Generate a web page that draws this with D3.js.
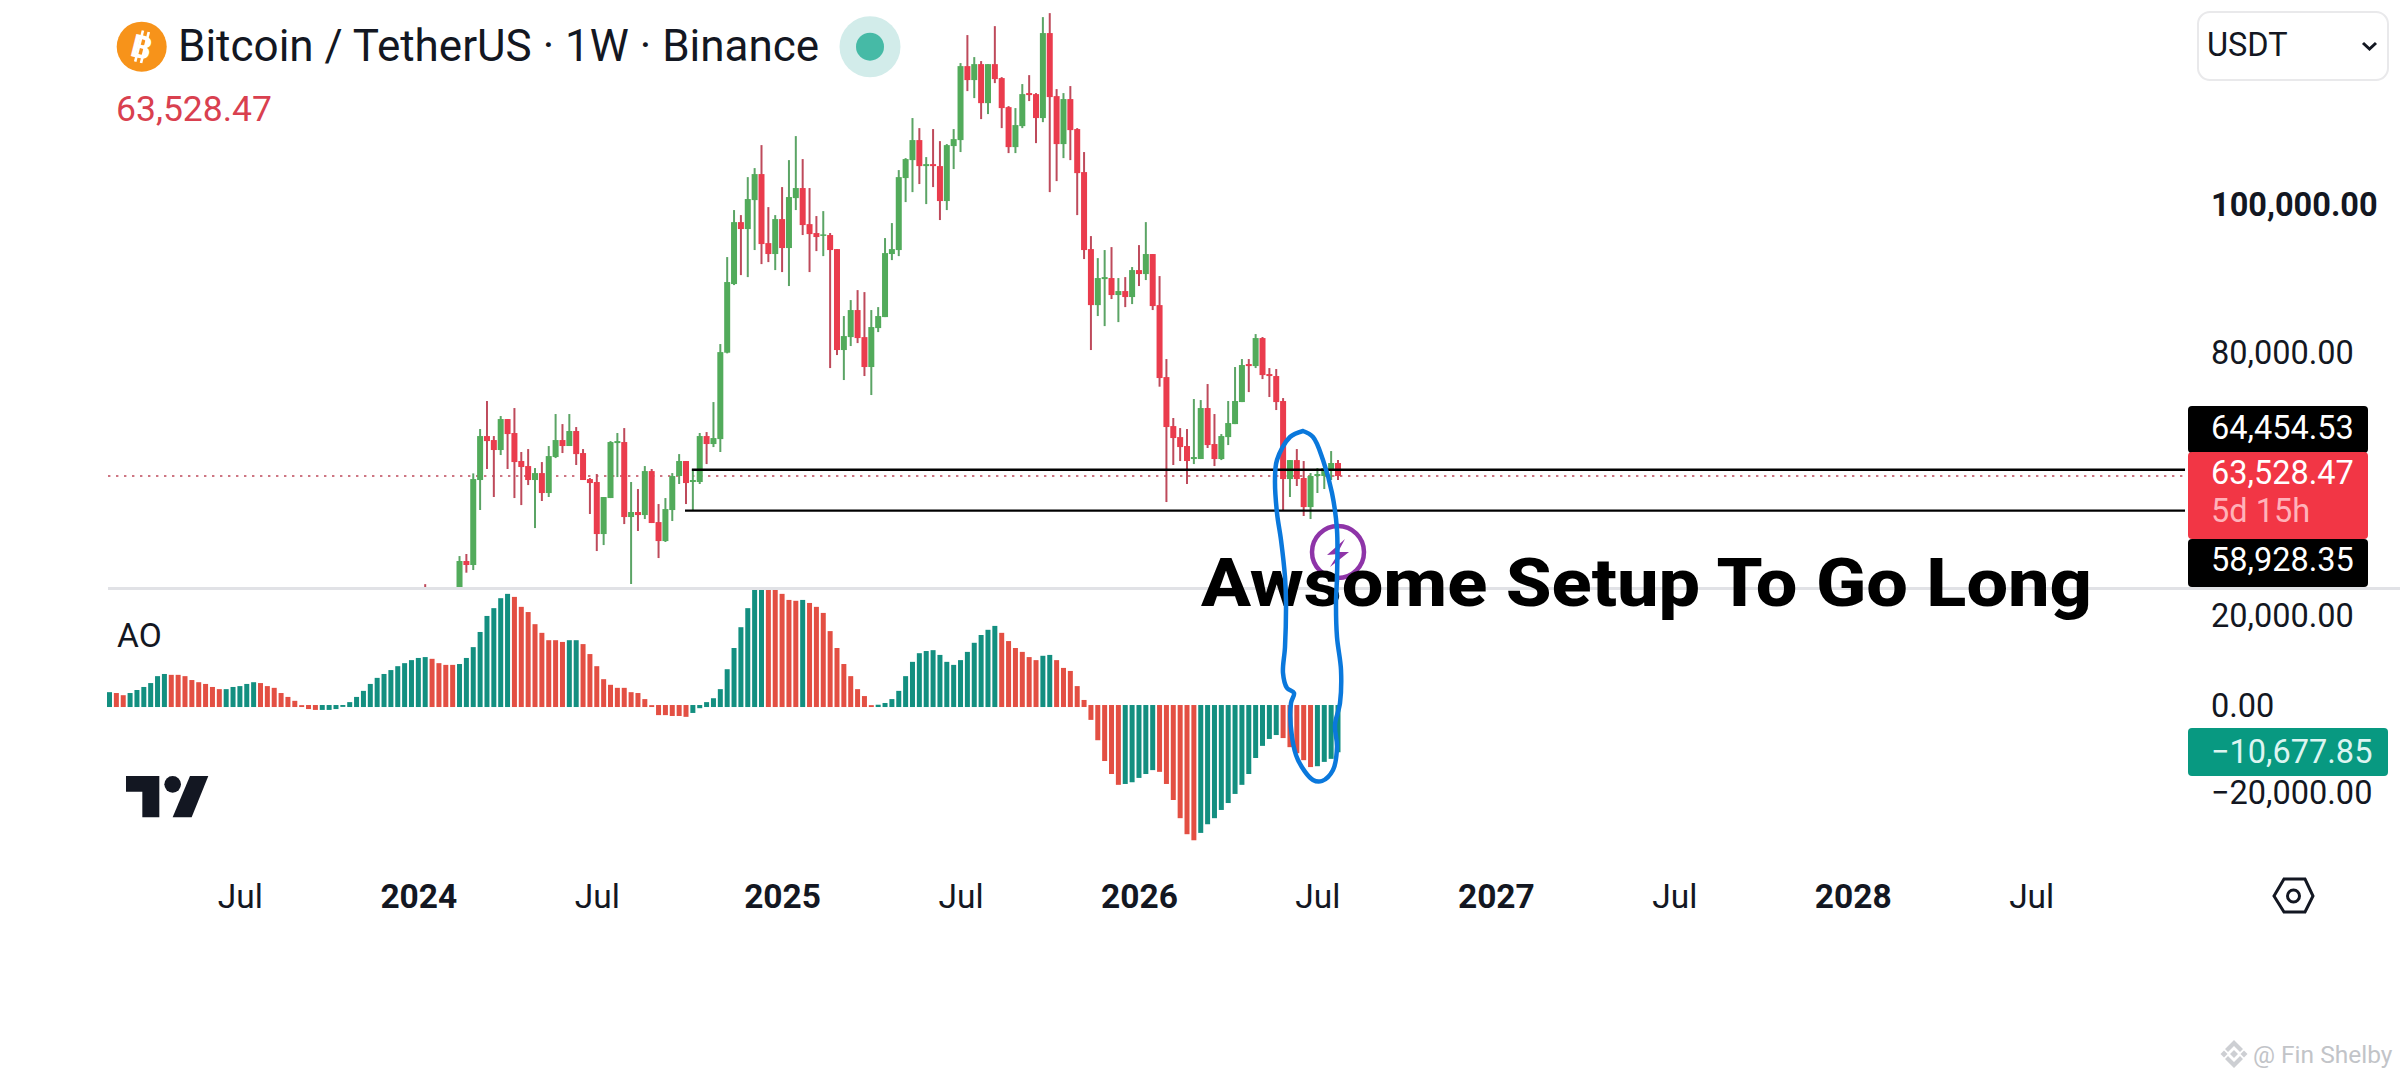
<!DOCTYPE html>
<html>
<head>
<meta charset="utf-8">
<title>Bitcoin / TetherUS 1W</title>
<script src="https://cdn.jsdelivr.net/npm/d3@7"></script>
<style>
    html, body { margin: 0; padding: 0; background: #fff; }
    svg { display: block; }
    text { font-family: Roboto, sans-serif; }
</style>
</head>
<body>
<div id="chart"></div>
<script>
// weekly candles, the first one sits at aoValues index 46
const candleOpen = [
    48000,47500,46800,46200,45900,46750,52030,51490,62990,68940,
    68400,67050,71240,69350,65560,64880,62990,63930,61230,66100,
    68400,67590,69620,66640,63120,62720,55680,60550,67990,68130,
    57980,58660,58250,64200,57300,54730,58930,63530,65560,62720,
    62720,68940,67860,68530,80220,89510,97890,96950,100870,104390,
    95050,93570,98300,94380,101140,102500,97620,96410,96050,96140,
    94240,80580,82330,85990,82330,78280,83550,85040,93570,94110,
    103850,106280,108990,105470,105740,105470,100740,108180,108990,119000,
    117110,119270,113990,119270,117380,113450,108040,110880,115350,115210,
    111970,123470,114940,108450,114540,110480,104660,94240,86660,90180,
    90320,88020,88560,87750,91400,90860,93570,86660,76920,70290,
    68800,67590,65830,65830,72730,67860,65830,68800,70560,73540,
    78680,78410,82200,77330,77060,73680,63120,65690,63260,59330,
    63530,63530,64480,65290
];
const candleHigh = [
    48900,48300,47800,47200,47000,52700,52980,63890,69890,73680,
    68940,71650,71240,72730,66780,67180,64610,65420,67590,71920,
    70560,71920,70160,67180,63260,63800,60690,68260,69350,70020,
    62720,61770,64880,64480,59740,60550,63930,66500,65560,64480,
    69350,69480,73540,81390,93160,99520,98840,103980,105200,108310,
    99920,98840,102630,106280,109530,106420,102500,98710,99380,96410,
    94240,85180,87340,88690,88420,85990,86390,95730,97760,104930,
    106550,111970,110610,106690,110480,108850,108450,110480,119410,123200,
    120220,119680,119270,124410,117510,113590,113320,116570,117780,115350,
    125630,126170,115890,115350,116300,110610,107370,96000,93020,94110,
    94510,90320,90450,91810,94780,97890,93570,90590,79360,71380,
    70020,69890,73950,73810,75980,71920,69210,73680,78280,79360,
    79360,82740,82340,78140,78010,74080,65690,67180,65560,63930,
    64610,65020,66910,65690
];
const candleLow = [
    47000,46000,45500,45000,44800,46300,50450,50810,58930,64480,
    60690,66370,64480,60550,59600,62310,56490,60150,60690,65960,
    66640,67590,65020,62990,58390,53380,54190,60550,63390,57030,
    48920,56090,57710,57170,52430,54600,57440,62450,59740,58930,
    62450,65150,67450,66780,80130,89370,90720,90450,94110,92210,
    92480,91400,91130,89240,99520,96140,91130,93970,93290,78140,
    79900,76520,81120,81520,77060,74490,83010,85040,92750,93290,
    100600,101950,103040,100330,102630,98170,99520,105070,107370,115620,
    114670,111830,112510,116700,110610,107230,107230,110610,114270,108580,
    111420,101950,103440,106550,106280,98840,92890,80580,85180,83820,
    87480,84360,86390,86800,89240,90050,85990,75620,60010,65020,
    65560,62450,65150,65830,67320,64880,65690,67720,70560,73540,
    74890,78140,76650,74220,72460,58930,60690,62180,58120,57710,
    61230,61770,62990,62990
];
const candleClose = [
    47500,46800,46200,45900,46700,52030,51490,63120,68940,68260,
    67050,71240,69210,65420,64750,62990,63930,61230,66230,68400,
    67590,69620,66500,62990,62580,55680,60690,68130,68260,57980,
    58660,58250,64200,57170,54730,59060,63530,65560,62580,62990,
    68940,67860,68670,80300,89780,97890,96950,101010,104390,94920,
    93570,98300,94380,101280,102500,97490,96270,95870,96230,94110,
    80580,82470,85990,82200,78280,83690,85180,93700,94240,103980,
    106420,108990,105470,105740,105470,100740,108310,109120,119000,117110,
    119270,113990,119270,117240,113320,108040,111020,115210,115080,111970,
    123470,114810,108450,114540,110340,104520,94110,86660,90320,90450,
    88020,88560,87750,91400,90860,93570,86530,76790,70160,68670,
    67450,65560,66100,72730,67720,65830,68940,70700,73680,78550,
    78410,82200,77190,77060,73540,63120,65690,63120,59330,63530,
    63800,64610,65290,63528.47
];
const aoValues = [
    3200,3000,2500,3000,3700,4400,5300,6900,7400,7200,
    7200,6900,6000,5500,5100,4400,3900,3900,4400,4600,
    5100,5500,5300,4600,4200,3000,2100,1200,200,-700,
    -900,-900,-900,-700,-200,900,2100,3500,5100,6500,
    7400,8300,9200,9900,10600,11100,11300,10900,9900,9500,
    9500,9700,11100,13600,17100,20800,22600,24900,25900,25200,
    22900,21700,18900,16900,15200,15200,14800,15200,15200,14300,
    12000,9200,6200,4900,4200,4200,3200,3000,1600,200,
    -2100,-2100,-2300,-2300,-2500,-1600,-500,900,1800,3900,
    8500,13400,18200,22600,27600,27900,28000,27300,25900,24500,
    24300,24500,23800,22900,21500,17300,13400,9700,6900,3900,
    2300,200,300,700,1600,3500,6900,10200,12200,12700,
    12900,11800,10200,9500,10600,12500,14600,16400,17600,18500,
    16900,15000,13400,12500,11300,10600,11600,11800,10600,8800,
    8100,4600,1400,-3200,-7900,-12700,-15700,-18200,-18000,-17600,
    -16600,-15700,-14800,-15200,-18000,-21700,-25900,-29600,-31000,-29300,
    -27300,-25900,-24000,-22400,-20300,-18200,-15700,-12000,-9200,-7600,
    -6700,-7400,-9500,-10900,-12500,-14100,-13900,-12900,-12200,-10677.85
];
// lengths of the colour runs of the AO bars, alternating green, red, green...
const aoRunLengths = [1,2,6,8,5,9,16,4,8,8,2,16,11,5,1,10,18,6,2,10,5,6,12,5,4];

const priceTicks = [100000, 80000];
const aoTicks = [20000, 0, -20000];
const timeTickIndex = [19, 45, 71, 98, 124, 150, 176, 202, 228, 254, 280];
const timeTickLabels = ["Jul", "2024", "Jul", "2025", "Jul", "2026", "Jul", "2027", "Jul", "2028", "Jul"];

const lastPrice = 63528.47;
const upperLevel = 64454.53;
const lowerLevel = 58928.35;
const aoLast = -10677.85;
const upperLevelStart = 39;
const lowerLevelStart = 38;
const candleOffset = 46;

const Colors = {
    TEXT: "#131722",
    UP: "#52AB5B",
    DOWN: "#EA3C4D",
    UP_WICK: "#5BA465",
    DOWN_WICK: "#BE4A5B",
    AO_UP: "#138F80",
    AO_DOWN: "#E34F43",
    PILL_RED: "#F23645",
    PILL_TEAL: "#089981",
    SEPARATOR: "#E1E2E6",
    SKETCH: "#0A78DC",
    PURPLE: "#8E34A8",
    WATERMARK: "#CDCFD3"
};

const width = 2400;
const height = 1080;
const fmt = d3.format(",.2f");
const fmtMinus = v => fmt(v).replace("-", "\u2212");

const svg = d3.select("#chart").append("svg")
    .attr("width", width)
    .attr("height", height)
    .attr("viewBox", [0, 0, width, height]);

svg.append("rect").attr("width", width).attr("height", height).attr("fill", "#fff");

const defs = svg.append("defs");
defs.append("clipPath").attr("id", "price-clip")
    .append("rect").attr("x", 106).attr("y", 0).attr("width", 2080).attr("height", 587);
defs.append("clipPath").attr("id", "ao-clip")
    .append("rect").attr("x", 106).attr("y", 590).attr("width", 2080).attr("height", 290);

const x = d3.scaleLinear().domain([0, 179]).range([109.5, 1338]);
const yPrice = d3.scaleLinear().domain([48000, 127500]).range([590.8, 3.3]);
const yAo = d3.scaleLinear().domain([27000, -32000]).range([589.1, 844.6]);

// price pane
const pricePane = svg.append("g").attr("clip-path", "url(#price-clip)");

pricePane.append("line")
    .attr("x1", 108).attr("x2", 2185)
    .attr("y1", yPrice(lastPrice)).attr("y2", yPrice(lastPrice))
    .attr("stroke", Colors.DOWN_WICK)
    .attr("stroke-width", 1.6)
    .attr("stroke-dasharray", "2.4 5.6");

const candles = candleOpen.map((open, i) => ({
    i: i + candleOffset,
    open,
    high: candleHigh[i],
    low: candleLow[i],
    close: candleClose[i]
}));

const candle = pricePane.selectAll("g.candle")
    .data(candles)
    .join("g")
    .attr("class", "candle");

candle.append("line")
    .attr("x1", d => x(d.i)).attr("x2", d => x(d.i))
    .attr("y1", d => yPrice(d.high)).attr("y2", d => yPrice(d.low))
    .attr("stroke", d => d.close >= d.open ? Colors.UP_WICK : Colors.DOWN_WICK)
    .attr("stroke-width", 2);

candle.append("rect")
    .attr("x", d => x(d.i) - 3)
    .attr("width", 6)
    .attr("y", d => yPrice(Math.max(d.open, d.close)))
    .attr("height", d => Math.max(1.5, Math.abs(yPrice(d.open) - yPrice(d.close))))
    .attr("fill", d => d.close >= d.open ? Colors.UP : Colors.DOWN);

const levels = [
    { value: upperLevel, start: upperLevelStart },
    { value: lowerLevel, start: lowerLevelStart }
];
pricePane.selectAll("line.level")
    .data(levels)
    .join("line")
    .attr("class", "level")
    .attr("x1", d => x(d.start + candleOffset) - 1)
    .attr("x2", 2185)
    .attr("y1", d => yPrice(d.value) + 0.6)
    .attr("y2", d => yPrice(d.value) + 0.6)
    .attr("stroke", "#000")
    .attr("stroke-width", 2.4);

// separator between panes
svg.append("rect")
    .attr("x", 108).attr("y", 587)
    .attr("width", 2292).attr("height", 3)
    .attr("fill", Colors.SEPARATOR);

// AO pane
const aoColors = aoRunLengths.flatMap((n, i) => d3.range(n).map(() => i % 2 === 0));
svg.append("g").attr("clip-path", "url(#ao-clip)")
    .selectAll("rect")
    .data(aoValues)
    .join("rect")
    .attr("x", (d, i) => x(i) - 2.5)
    .attr("width", 5)
    .attr("y", d => d >= 0 ? yAo(d) : yAo(0) - 1)
    .attr("height", d => d >= 0 ? yAo(0) + 1 - yAo(d) : yAo(d) - yAo(0) + 1)
    .attr("fill", (d, i) => aoColors[i] ? Colors.AO_UP : Colors.AO_DOWN);

svg.append("text")
    .attr("x", 117).attr("y", 647)
    .attr("font-size", 33.5)
    .attr("fill", Colors.TEXT)
    .text("AO");

// axes
const priceAxis = svg.append("g")
    .attr("transform", "translate(2211,-1.5)")
    .call(d3.axisRight(yPrice).tickValues(priceTicks).tickSize(0).tickPadding(0).tickFormat(fmt));
const aoAxis = svg.append("g")
    .attr("transform", "translate(2211,0)")
    .call(d3.axisRight(yAo).tickValues(aoTicks).tickSize(0).tickPadding(0).tickFormat(fmtMinus));
const timeAxis = svg.append("g")
    .attr("transform", "translate(0,884)")
    .call(d3.axisBottom(x).tickValues(timeTickIndex).tickSize(0).tickPadding(0)
        .tickFormat((d, i) => timeTickLabels[i]));

[priceAxis, aoAxis, timeAxis].forEach(axis => {
    axis.select(".domain").remove();
    axis.selectAll("text")
        .attr("font-family", "Roboto, sans-serif")
        .attr("font-size", 32.5)
        .attr("fill", Colors.TEXT);
});
priceAxis.selectAll("text").attr("font-weight", d => d === 100000 ? 700 : 400);
aoAxis.selectAll("text").attr("transform", d => d === 20000 ? "translate(0,-3)" : null);
timeAxis.selectAll("text")
    .attr("font-size", 33.5)
    .attr("font-weight", (d, i) => /^\d/.test(timeTickLabels[i]) ? 700 : 400);

// price tags on the right
function pill(y0, y1, w, color) {
    svg.append("rect")
        .attr("x", 2188).attr("y", y0)
        .attr("width", w).attr("height", y1 - y0)
        .attr("rx", 4)
        .attr("fill", color);
}
function pillText(label, y, color) {
    svg.append("text")
        .attr("x", 2211).attr("y", y)
        .attr("font-size", 32.5)
        .attr("fill", color)
        .text(label);
}
pill(406, 453, 180, "#000");
pill(539, 587, 180, "#000");
pill(452, 539, 180, Colors.PILL_RED);
pill(728, 776, 200, Colors.PILL_TEAL);
pillText(fmt(upperLevel), 439, "#fff");
pillText(fmt(lastPrice), 484, "#fff");
pillText("5d 15h", 522, "#FFB2B9");
pillText(fmt(lowerLevel), 571, "#fff");
pillText(fmtMinus(aoLast), 763, "#DDF5F1");

// header
svg.append("circle").attr("cx", 141.7).attr("cy", 46.7).attr("r", 25).attr("fill", "#F7931A");
const coin = svg.append("g").attr("transform", "translate(141.7,46.7) rotate(14)");
coin.append("text")
    .attr("text-anchor", "middle")
    .attr("y", 11.5)
    .attr("font-size", 32)
    .attr("font-weight", 700)
    .attr("fill", "#fff")
    .text("B");
coin.selectAll("rect")
    .data([-4, 2])
    .join("rect")
    .attr("x", d => d)
    .attr("y", -16)
    .attr("width", 2.6)
    .attr("height", 32)
    .attr("fill", "#fff")
    .lower();

svg.append("text")
    .attr("x", 178).attr("y", 61)
    .attr("font-size", 44)
    .attr("fill", Colors.TEXT)
    .text("Bitcoin / TetherUS · 1W · Binance");

svg.append("circle").attr("cx", 870).attr("cy", 46.7).attr("r", 30.5).attr("fill", "#D2ECEA");
svg.append("circle").attr("cx", 870).attr("cy", 46.7).attr("r", 14).attr("fill", "#46BAA6");

svg.append("text")
    .attr("x", 116).attr("y", 120.5)
    .attr("font-size", 35.5)
    .attr("fill", "#D9404F")
    .text(fmt(lastPrice));

// currency select
svg.append("rect")
    .attr("x", 2198).attr("y", 12)
    .attr("width", 190).attr("height", 68)
    .attr("rx", 12)
    .attr("fill", "#fff")
    .attr("stroke", "#E9E9EB")
    .attr("stroke-width", 2);
svg.append("text")
    .attr("x", 2207).attr("y", 56)
    .attr("font-size", 32.5)
    .attr("fill", Colors.TEXT)
    .text("USDT");
svg.append("path")
    .attr("d", "M2363 43l6.5 6 6.5-6")
    .attr("fill", "none")
    .attr("stroke", "#131722")
    .attr("stroke-width", 3);

// TradingView logo
const logo = svg.append("g").attr("transform", "translate(100,570) scale(0.3333)").attr("fill", Colors.TEXT);
logo.append("path").attr("d", "M78 618H178V742H127V665H78Z");
logo.append("circle").attr("cx", 218).attr("cy", 643).attr("r", 25);
logo.append("path").attr("d", "M270 618H325L275 742H218Z");

// settings hexagon
svg.append("path")
    .attr("d", "M2274 896L2284 879H2305L2313 896L2305 912H2284Z")
    .attr("fill", "none")
    .attr("stroke", "#131722")
    .attr("stroke-width", 3);
svg.append("circle")
    .attr("cx", 2293.5).attr("cy", 896).attr("r", 6)
    .attr("fill", "none")
    .attr("stroke", "#131722")
    .attr("stroke-width", 3);

// watermark
const wm = svg.append("g").attr("fill", Colors.WATERMARK).attr("transform", "translate(2234,1054)");
wm.append("path").attr("d", "M0 -14L9 -5L6 -2L0 -8L-6 -2L-9 -5Z");
wm.append("path").attr("d", "M0 14L9 5L6 2L0 8L-6 2L-9 5Z");
wm.append("path").attr("d", "M0 -4L4 0L0 4L-4 0Z");
wm.append("path").attr("d", "M-10 -3.5L-6.5 0L-10 3.5L-13.5 0Z");
wm.append("path").attr("d", "M10 -3.5L13.5 0L10 3.5L6.5 0Z");
svg.append("text")
    .attr("x", 2253).attr("y", 1063)
    .attr("font-family", "'Open Sans', sans-serif")
    .attr("font-size", 24.5)
    .attr("fill", "#C2C4C8")
    .text("@ Fin Shelby");

// annotation drawn over the chart
svg.append("circle")
    .attr("cx", 1338).attr("cy", 552).attr("r", 26)
    .attr("fill", "#fff")
    .attr("stroke", Colors.PURPLE)
    .attr("stroke-width", 4.5);
svg.append("path")
    .attr("d", "M1345 539L1327 555L1338 554L1330 567L1349 552L1338 552Z")
    .attr("fill", Colors.PURPLE);

svg.append("text")
    .attr("x", 1201).attr("y", 606)
    .attr("font-family", "Inter, sans-serif")
    .attr("font-size", 66)
    .attr("font-weight", 800)
    .attr("fill", "#000")
    .attr("textLength", 891)
    .attr("lengthAdjust", "spacingAndGlyphs")
    .text("Awsome Setup To Go Long");

const sketchPoints = [
    [1303,431],[1290,437],[1277,460],[1275,480],[1277,513],[1281,540],[1285,577],[1286,603],
    [1285,647],[1283,673],[1287,688],[1294,693],[1291,703],[1292,737],[1298,760],[1313,780],
    [1322,781],[1333,770],[1337,747],[1335,725],[1340,703],[1341,670],[1337,637],[1336,603],
    [1337,577],[1337,530],[1332,493],[1323,460],[1313,437],[1303,431]
];
svg.append("path")
    .attr("d", d3.line().curve(d3.curveCatmullRom)(sketchPoints))
    .attr("fill", "none")
    .attr("stroke", Colors.SKETCH)
    .attr("stroke-width", 4.5)
    .attr("stroke-linecap", "round");
</script>
</body>
</html>
